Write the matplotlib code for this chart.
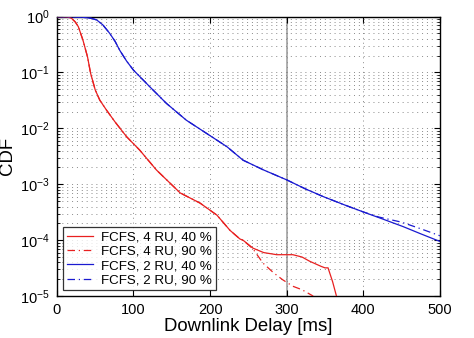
import numpy as np
import matplotlib.pyplot as plt
from matplotlib.ticker import LogLocator, NullFormatter, FixedLocator

plt.rcParams["font.family"] = ["Liberation Sans", "DejaVu Sans"]

# complementary CDF of downlink delay, read per scenario
delay_4ru_40 = [0, 8, 14, 19, 24, 28, 34, 40, 44, 50, 56, 65, 76, 91, 108, 130, 161, 187, 209, 226,
                239, 243, 256, 270, 287, 308, 320, 330, 345, 350, 354, 360, 365]
ccdf_4ru_40 = [1.0, 0.995, 0.98, 0.935, 0.8, 0.66, 0.38, 0.19, 0.097, 0.049, 0.032, 0.021, 0.013,
               0.0071, 0.0041, 0.0018, 7e-4, 4.6e-4, 2.8e-4, 1.5e-4, 1.05e-4, 1.0e-4, 7.2e-5,
               6.0e-5, 5.5e-5, 5.5e-5, 5.0e-5, 4.2e-5, 3.4e-5, 3.2e-5, 3.2e-5, 1.8e-5, 1.0e-5]

delay_4ru_90 = [0, 8, 14, 19, 24, 28, 34, 40, 44, 50, 56, 65, 76, 91, 108, 130, 161, 187, 209, 226,
                239, 243, 256, 269, 283, 295, 308, 320, 334.6]
ccdf_4ru_90 = [1.0, 0.995, 0.98, 0.935, 0.8, 0.66, 0.38, 0.19, 0.097, 0.049, 0.032, 0.021, 0.013,
               0.0071, 0.0041, 0.0018, 7e-4, 4.6e-4, 2.8e-4, 1.5e-4, 1.05e-4, 1.0e-4, 7.0e-5,
               3.9e-5, 2.6e-5, 1.95e-5, 1.5e-5, 1.3e-5, 1.0e-5]

delay_2ru_40 = [0, 20, 34, 45, 52, 60, 69, 76, 82, 91, 100, 121, 143, 169, 195, 222, 243, 270, 300,
                325, 348, 375, 400, 425, 452, 475, 500]
ccdf_2ru_40 = [1.0, 0.99, 0.97, 0.93, 0.87, 0.71, 0.5, 0.36, 0.25, 0.16, 0.11, 0.056, 0.028, 0.014,
               0.0082, 0.0047, 0.0027, 0.0018, 0.0012, 8.2e-4, 6.0e-4, 4.3e-4, 3.2e-4, 2.4e-4,
               1.75e-4, 1.3e-4, 9.5e-5]

delay_2ru_90 = [0, 20, 34, 45, 52, 60, 69, 76, 82, 91, 100, 121, 143, 169, 195, 222, 243, 270, 300,
                325, 348, 375, 400, 420, 450, 475, 500]
ccdf_2ru_90 = [1.0, 0.99, 0.97, 0.93, 0.87, 0.71, 0.5, 0.36, 0.25, 0.16, 0.11, 0.056, 0.028, 0.014,
               0.0082, 0.0047, 0.0027, 0.0018, 0.0012, 8.2e-4, 6.0e-4, 4.3e-4, 3.2e-4, 2.6e-4,
               2.1e-4, 1.6e-4, 1.2e-4]

labels = ["FCFS, 4 RU, 40 %", "FCFS, 4 RU, 90 %", "FCFS, 2 RU, 40 %", "FCFS, 2 RU, 90 %"]
x_ticks = [0, 100, 200, 300, 400, 500]
deadline = 300


def main() -> None:
    fig = plt.figure(figsize=(4.74, 3.38), dpi=100)
    ax = fig.add_axes([0.120, 0.124, 0.808, 0.827])

    ax.axvline(deadline, color="#9a9a9a", lw=1.1, zorder=1)

    dashdot = (0, (6, 3, 1, 3))
    ax.plot(delay_4ru_40, ccdf_4ru_40, color="#e82020", lw=0.9, label=labels[0], zorder=3)
    ax.plot(delay_4ru_90, ccdf_4ru_90, color="#e82020", lw=0.9, ls=dashdot,
            label=labels[1], zorder=3)
    ax.plot(delay_2ru_40, ccdf_2ru_40, color="#1a1ad0", lw=0.9, label=labels[2], zorder=3)
    ax.plot(delay_2ru_90, ccdf_2ru_90, color="#1a1ad0", lw=0.9, ls=dashdot,
            label=labels[3], zorder=3)

    ax.set_yscale("log")
    ax.set_xlim(0, 500)
    ax.set_ylim(1e-5, 1)
    ax.xaxis.set_major_locator(FixedLocator(x_ticks))
    ax.yaxis.set_major_locator(LogLocator(base=10, numticks=10))
    ax.yaxis.set_minor_locator(LogLocator(base=10, subs=np.arange(2, 10), numticks=10))
    ax.yaxis.set_minor_formatter(NullFormatter())

    ax.grid(True, which="major", color="#8a8a8a", ls=(0, (1, 4)), lw=0.7)
    ax.grid(True, which="minor", axis="y", color="#8a8a8a", ls=(0, (1, 4)), lw=0.7)

    ax.tick_params(which="both", direction="in", top=True, right=True, labelsize=10.5)
    ax.tick_params(which="major", length=4, width=0.8, pad=5)
    ax.tick_params(which="minor", length=2, width=0.6)
    for s in ax.spines.values():
        s.set_linewidth(1.0)

    ax.set_xlabel("Downlink Delay [ms]", fontsize=13.4, labelpad=1)
    ax.set_ylabel("CDF", fontsize=13.4)
    ax.yaxis.set_label_coords(-0.107, 0.5)

    leg = ax.legend(loc="lower left", bbox_to_anchor=(0.015, 0.02), fontsize=9.6,
                    frameon=True, fancybox=False, edgecolor="black", handlelength=2.0,
                    borderpad=0.3, labelspacing=0.15, handletextpad=0.6, borderaxespad=0)
    leg.get_frame().set_linewidth(0.9)
    leg.set_zorder(5)

    fig.savefig("out.png", dpi=100)
    plt.close(fig)


if __name__ == "__main__":
    main()
